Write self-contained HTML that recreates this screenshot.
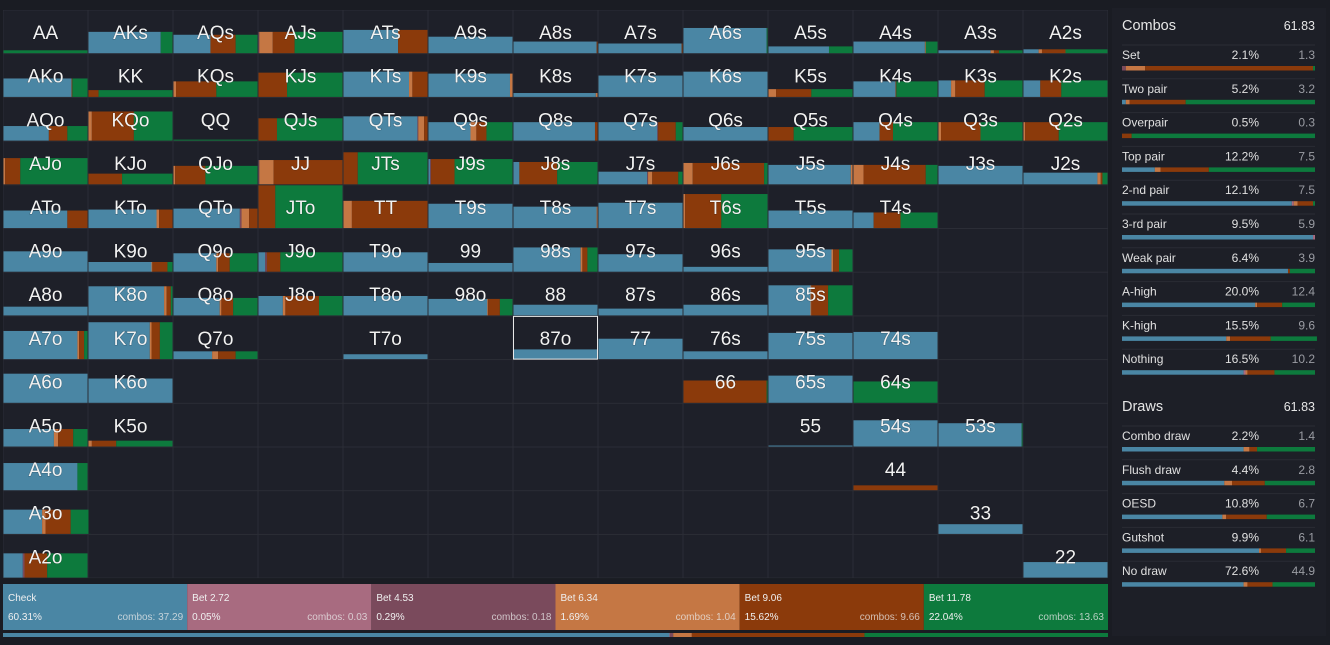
<!DOCTYPE html>
<html><head><meta charset="utf-8">
<style>
html,body{margin:0;padding:0;background:#1a1c23;}
svg{display:block;font-family:"Liberation Sans",sans-serif;}
</style></head>
<body>
<svg id="chart" width="1330" height="645" viewBox="0 0 1330 645" xmlns="http://www.w3.org/2000/svg">
<rect x="0" y="0" width="1330" height="645" fill="#1a1c23"/>
<rect x="1112" y="8" width="214" height="628" fill="#1d1f27"/>
<g id="grid"></g>
<g id="panel"></g>
<g id="legend"></g>
</svg>
<script>
const ranks = ['A','K','Q','J','T','9','8','7','6','5','4','3','2'];
const actions = ['Check','Bet 2.72','Bet 4.53','Bet 6.34','Bet 9.06','Bet 11.78'];
const actionPct = [60.31,0.05,0.29,1.69,15.62,22.04];
const actionCombos = [37.29,0.03,0.18,1.04,9.66,13.63];
const colors = ['#4a86a4','#a86b80','#7a4a5c','#c57744','#8b3a0b','#0d7a3d'];
// weight per hand (bar height, out of 44)
const weights = [
[3,22,19,22,24,17,12,10,26,7,12,3,4],
[19,7,16,25,26,24,4,22,26,8,16,17,17],
[15,30,1,23,25,19,19,19,14,14,19,19,19],
[27,11,19,25,33,26,23,13,22,20,20,19,12],
[18,19,20,44,28,25,22,26,35,18,16,0,0],
[21,10,19,20,20,9,25,18,5,23,0,0,0],
[9,30,18,20,20,17,11,7,11,31,0,0,0],
[29,38,8,0,5,0,10,21,8,27,28,0,0],
[30,25,0,0,0,0,0,0,23,28,22,0,0],
[18,6,0,0,0,0,0,0,0,1,27,24,0],
[28,0,0,0,0,0,0,0,0,0,5,0,0],
[25,0,0,0,0,0,0,0,0,0,0,10,0],
[25,0,0,0,0,0,0,0,0,0,0,0,16]
];
// action frequencies per hand: [check, b2.72, b4.53, b6.34, b9.06, b11.78]
const handFreqs = {
AA:[0,0,0,0,0,1],AKs:[.86,0,0,0,0,.14],AQs:[.44,0,0,0,.3,.26],AJs:[0,0,.01,.16,.26,.57],ATs:[.65,0,0,0,.35,0],
A9s:[1,0,0,0,0,0],A8s:[.99,0,0,0,.01,0],A7s:[.99,0,0,0,.01,0],A6s:[.99,0,0,0,0,.01],A5s:[.72,0,0,0,0,.28],
A4s:[.85,0,0,.01,0,.14],A3s:[.62,0,0,.04,.06,.28],A2s:[.18,0,0,.04,.28,.5],
AKo:[.81,0,0,0,.01,.18],KK:[0,0,0,0,.12,.88],KQs:[0,0,0,.03,.48,.49],KJs:[0,0,0,0,.34,.66],KTs:[.78,0,0,.04,.18,0],
K9s:[.97,0,0,.03,0,0],K8s:[.98,0,0,.02,0,0],K7s:[1,0,0,0,0,0],K6s:[1,0,0,0,0,0],K5s:[0,0,0,.09,.42,.49],
K4s:[.5,0,0,0,.01,.49],K3s:[.15,0,0,.05,.35,.45],K2s:[.2,0,0,0,.25,.55],
AQo:[.54,0,0,0,.22,.24],KQo:[0,0,0,.04,.5,.46],QQ:[0,0,0,0,0,1],QJs:[0,0,0,0,.22,.78],QTs:[.88,0,.01,.07,.04,0],
Q9s:[.5,0,0,.07,.12,.31],Q8s:[.97,0,0,0,.03,0],Q7s:[.7,0,.01,0,.21,.08],Q6s:[1,0,0,0,0,0],Q5s:[0,0,0,0,.3,.7],
Q4s:[.31,0,0,0,.16,.53],Q3s:[0,0,0,.03,.47,.5],Q2s:[0,0,0,.02,.4,.58],
AJo:[0,0,0,.02,.18,.8],KJo:[0,0,0,0,.4,.6],QJo:[0,0,0,.02,.36,.62],JJ:[0,0,.01,.17,.82,0],JTs:[0,0,0,0,.17,.83],
J9s:[.02,0,.01,0,.28,.69],J8s:[.07,0,0,0,.45,.48],J7s:[.58,0,.01,.05,.31,.05],J6s:[0,0,0,.11,.85,.04],
J5s:[.98,0,0,.02,0,0],J4s:[0,0,0,.12,.74,.14],J3s:[1,0,0,0,0,0],J2s:[.88,0,0,.04,.02,.06],
ATo:[.76,0,0,0,.24,0],KTo:[.81,0,0,.03,.16,0],QTo:[.79,0,.02,.09,.1,0],JTo:[0,0,0,0,.2,.8],TT:[0,0,0,.1,.9,0],
T9s:[1,0,0,0,0,0],T8s:[.99,0,0,.01,0,0],T7s:[1,0,0,0,0,0],T6s:[0,0,0,.02,.43,.55],T5s:[1,0,0,0,0,0],T4s:[.24,0,0,0,.32,.44],
A9o:[1,0,0,0,0,0],K9o:[.75,0,0,.01,.18,.06],Q9o:[.51,0,0,.02,.14,.33],J9o:[.08,0,.02,0,.16,.74],T9o:[1,0,0,0,0,0],
'99':[1,0,0,0,0,0],'98s':[.8,0,0,.02,.06,.12],'97s':[1,0,0,0,0,0],'96s':[1,0,0,0,0,0],'95s':[.75,0,0,.02,.07,.16],
A8o:[1,0,0,0,0,0],K8o:[.9,0,0,.03,.05,.02],Q8o:[.55,0,0,.02,.14,.29],J8o:[.29,0,0,.03,.4,.28],T8o:[1,0,0,0,0,0],
'98o':[.7,0,0,.01,.14,.15],'88':[1,0,0,0,0,0],'87s':[1,0,0,0,0,0],'86s':[1,0,0,0,0,0],'85s':[.5,0,0,.01,.2,.29],
A7o:[.88,0,0,.02,.06,.04],K7o:[.73,0,0,.02,.1,.15],Q7o:[.46,0,0,.07,.21,.26],T7o:[1,0,0,0,0,0],'87o':[1,0,0,0,0,0],
'77':[1,0,0,0,0,0],'76s':[1,0,0,0,0,0],'75s':[1,0,0,0,0,0],'74s':[1,0,0,0,0,0],
A6o:[1,0,0,0,0,0],K6o:[1,0,0,0,0,0],'66':[0,0,0,0,.99,.01],'65s':[1,0,0,0,0,0],'64s':[0,0,0,0,0,1],
A5o:[.6,0,0,.05,.18,.17],K5o:[0,0,0,.04,.29,.67],'55':[1,0,0,0,0,0],'54s':[1,0,0,0,0,0],'53s':[.99,0,0,0,0,.01],
A4o:[.88,0,0,0,0,.12],'44':[0,0,0,0,1,0],A3o:[.46,0,0,.04,.3,.24],'33':[1,0,0,0,0,0],A2o:[.23,0,.02,0,.27,.48],'22':[1,0,0,0,0,0]
};
const comboNames = ['Set','Two pair','Overpair','Top pair','2-nd pair','3-rd pair','Weak pair','A-high','K-high','Nothing'];
const comboPct = ['2.1%','5.2%','0.5%','12.2%','12.1%','9.5%','6.4%','20.0%','15.5%','16.5%'];
const comboVal = ['1.3','3.2','0.3','7.5','7.5','5.9','3.9','12.4','9.6','10.2'];
const comboFreqs = [[0,0,.02,.1,.87,.01],[.02,0,0,.02,.29,.67],[0,0,0,0,.05,.95],[.17,0,0,.03,.25,.55],[.88,.01,0,.02,.08,.01],
[.99,.01,0,0,0,0],[.86,0,0,0,.01,.13],[.69,0,0,.01,.13,.17],[.54,0,0,.02,.21,.24],[.63,.01,0,.01,.14,.21]];
const drawNames = ['Combo draw','Flush draw','OESD','Gutshot','No draw'];
const drawPct = ['2.2%','4.4%','10.8%','9.9%','72.6%'];
const drawVal = ['1.4','2.8','6.7','6.1','44.9'];
const drawFreqs = [[.63,0,0,.03,.04,.3],[.53,0,0,.04,.17,.26],[.52,0,0,.02,.21,.25],[.71,0,0,.01,.13,.15],[.63,0,0,.02,.13,.22]];

const NS='http://www.w3.org/2000/svg';
function mk(tag,attrs,parent){const e=document.createElementNS(NS,tag);for(const k in attrs)e.setAttribute(k,attrs[k]);parent.appendChild(e);return e;}
const gx0=3, gy0=10, cw=85, ch=43.7;
const xCell=j=>gx0+j*cw, yCell=i=>gy0+i*ch;
function handName(i,j){if(i===j)return ranks[i]+ranks[j];if(i<j)return ranks[i]+ranks[j]+'s';return ranks[j]+ranks[i]+'o';}
const grid=document.getElementById('grid');
mk('rect',{x:gx0,y:gy0,width:13*cw,height:13*ch,fill:'#2b2d36'},grid);
for(let i=0;i<13;i++)for(let j=0;j<13;j++){
  const name=handName(i,j), x=xCell(j), y=yCell(i);
  const g=mk('g',{},grid);
  
  
  mk('rect',{x:x+0.5,y:y+0.5,width:cw-1,height:ch-1,fill:'#1e2029'},g);
  const w=weights[i][j], f=handFreqs[name];
  if(w>0 && f){
    const h=w/44*(ch-1), bw=cw-1; let cx=x+0.5;
    const by=y+ch-0.5-h;
    f.forEach((v,k)=>{ if(v<=0)return;
      const r=mk('rect',{x:cx,y:by,width:v*bw,height:h,fill:colors[k]},g);
      
      
      cx+=v*bw; });
  }
  if(w>0){
    const t=mk('text',{x:x+cw/2,y:y+29,'text-anchor':'middle','font-size':19,fill:'#f2f2f2',style:'paint-order:stroke;stroke:rgba(0,0,0,0.25);stroke-width:1px'},g);
    
    
    t.textContent=name;
  }
  if(name==='87o'){const b=mk('rect',{x:x+0.5,y:y+0.5,width:cw-1,height:ch-1,fill:'none',stroke:'#e8e8e8','stroke-width':1},g);
    }
}
// panel
const panel=document.getElementById('panel');
const px0=1122, px1=1315;
function section(title,total,y0,names,pcts,vals,freqs,prefix){
  const h=mk('text',{x:px0,y:y0,'font-size':14.5,fill:'#e6e6e6'},panel);
  h.textContent=title;
  const tv=mk('text',{x:px1,y:y0,'text-anchor':'end','font-size':12.5,fill:'#e6e6e6'},panel);
  tv.textContent=total;
  names.forEach((n,k)=>{
    const ry=y0+29+k*33.8;
    const g=mk('g',{},panel);
    
    
    mk('line',{x1:px0,x2:px1,y1:ry-14,y2:ry-14,stroke:'#2a2c35','stroke-width':1},g);
    mk('text',{x:px0,y:ry,'font-size':12,fill:'#e0e0e0'},g).textContent=n;
    mk('text',{x:1259,y:ry,'text-anchor':'end','font-size':12,fill:'#e0e0e0'},g).textContent=pcts[k];
    mk('text',{x:px1,y:ry,'text-anchor':'end','font-size':12,fill:'#9a9ca3'},g).textContent=vals[k];
    let cx=px0; const bw=px1-px0;
    freqs[k].forEach((v,a)=>{if(v<=0)return;mk('rect',{x:cx,y:ry+7,width:v*bw,height:4.5,fill:colors[a]},g);cx+=v*bw;});
  });
}
section('Combos','61.83',30,comboNames,comboPct,comboVal,comboFreqs,'combos');
section('Draws','61.83',411,drawNames,drawPct,drawVal,drawFreqs,'draws');
// legend
const leg=document.getElementById('legend');
const lx0=3, lw=1105/6;
actions.forEach((a,k)=>{
  const x=lx0+k*lw;
  const g=mk('g',{},leg);
  
  
  mk('rect',{x:x,y:584,width:lw,height:46,fill:colors[k]},g);
  mk('text',{x:x+5,y:601,'font-size':10,fill:'#f0f0f0'},g).textContent=a;
  mk('text',{x:x+5,y:620,'font-size':10,fill:'#f0f0f0'},g).textContent=actionPct[k].toFixed(2)+'%';
  mk('text',{x:x+lw-4,y:620,'text-anchor':'end','font-size':10,fill:'rgba(235,235,235,0.75)'},g).textContent='combos: '+actionCombos[k].toFixed(2);
});
let sx=lx0; const tot=actionPct.reduce((s,v)=>s+v,0);
actionPct.forEach((v,k)=>{const w=v/tot*1105;
  const r=mk('rect',{x:sx,y:633,width:w,height:4,fill:colors[k]},leg);
  
  
  sx+=w;});
</script>
</body></html>
